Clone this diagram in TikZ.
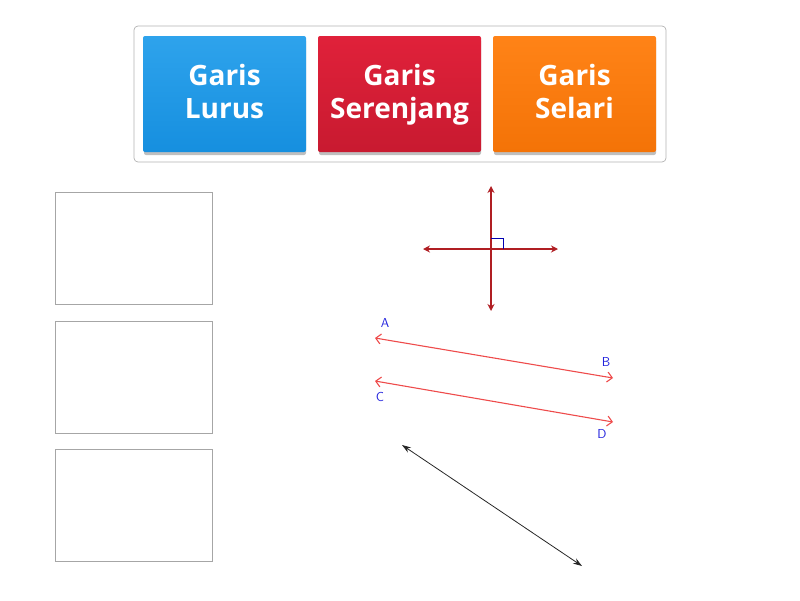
\documentclass[tikz,border=0pt]{standalone}
\usepackage{fontspec}
\setmainfont{Open Sans}
\usetikzlibrary{arrows.meta}
\definecolor{btnblue}{HTML}{2EA3EC}
\definecolor{btnblueb}{HTML}{168FDF}
\definecolor{btnred}{HTML}{E0213A}
\definecolor{btnredb}{HTML}{C81A30}
\definecolor{btnorange}{HTML}{FF8317}
\definecolor{btnorangeb}{HTML}{F47307}
\definecolor{perpred}{HTML}{B01E23}
\definecolor{parred}{HTML}{EE4B4B}
\definecolor{lblblue}{HTML}{2222DD}
\tikzset{
  btn/.style={minimum width=163pt, minimum height=116pt, rounded corners=2pt, inner sep=0pt},
  btntext/.style={text=white, font=\fontsize{28}{33}\selectfont\bfseries, inner sep=0pt, anchor=base},
  dropbox/.style={draw=gray!70, line width=0.6pt, minimum width=157pt, minimum height=112pt, inner sep=0pt},
  lbl/.style={text=lblblue, font=\sffamily\fontsize{13}{14}\selectfont, inner sep=0pt},
}
\begin{document}
\begin{tikzpicture}[x=1pt,y=-1pt]
\useasboundingbox (0,0) rectangle (800,600);
% container
\node[draw=gray!60, line width=0.7pt, rounded corners=4pt, minimum width=532pt, minimum height=136pt, inner sep=0pt] (cont) at (400,94) {};
% buttons with shadow
\fill[black!25, rounded corners=2pt] (144,39) rectangle (306,155);
\fill[black!25, rounded corners=2pt] (319,39) rectangle (481,155);
\fill[black!25, rounded corners=2pt] (494,39) rectangle (656,155);
\node[btn, top color=btnblue, bottom color=btnblueb] (b1) at (224.5,94) {};
\node[btn, top color=btnred, bottom color=btnredb] (b2) at (399.5,94) {};
\node[btn, top color=btnorange, bottom color=btnorangeb] (b3) at (574.5,94) {};
\node[btntext] (t1) at (224.5,85) {Garis};
\node[btntext] (t1b) at (224.5,118) {Lurus};
\node[btntext] (t2) at (399.5,85) {Garis};
\node[btntext] (t2b) at (399.5,118) {Serenjang};
\node[btntext] (t3) at (574.5,85) {Garis};
\node[btntext] (t3b) at (574.5,118) {Selari};
% drop boxes
\node[dropbox] (d1) at (133.5,248) {};
\node[dropbox] (d2) at (133.5,377) {};
\node[dropbox] (d3) at (133.5,505) {};
% perpendicular lines
\coordinate (vt) at (491,186);
\coordinate (vb) at (491,311);
\coordinate (hl) at (423,249);
\coordinate (hr) at (558,249);
\draw[perpred, line width=1.2pt, {Stealth[length=7pt,width=7pt]}-{Stealth[length=7pt,width=7pt]}] (vt) -- (vb);
\draw[perpred, line width=1.2pt, {Stealth[length=7pt,width=7pt]}-{Stealth[length=7pt,width=7pt]}] (hl) -- (hr);
\coordinate (ra1) at (491,238);
\coordinate (ra2) at (503,238);
\coordinate (ra3) at (503,249);
\draw[blue!70!black, line width=1pt] (ra1) -- (ra2) -- (ra3);
% parallel lines
\coordinate (A) at (375,338);
\coordinate (B) at (613,378);
\coordinate (C) at (375,381);
\coordinate (D) at (613,422);
\draw[parred, line width=1.1pt, {Straight Barb[length=5pt,width=10pt]}-{Straight Barb[length=5pt,width=10pt]}] (A) -- (B);
\draw[parred, line width=1.1pt, {Straight Barb[length=5pt,width=10pt]}-{Straight Barb[length=5pt,width=10pt]}] (C) -- (D);
\node[lbl] (la) at (385,323) {A};
\node[lbl] (lb) at (606,362) {B};
\node[lbl] (lc) at (380,397) {C};
\node[lbl] (ld) at (602,434) {D};
% straight line
\coordinate (s1) at (402,445);
\coordinate (s2) at (582,566);
\draw[black!85, line width=0.8pt, {Stealth[length=9pt,width=6pt]}-{Stealth[length=9pt,width=6pt]}] (s1) -- (s2);
\end{tikzpicture}
\end{document}
